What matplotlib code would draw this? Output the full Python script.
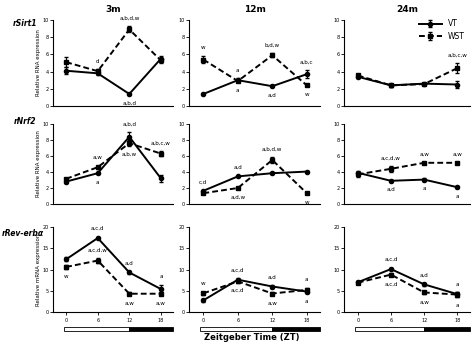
import matplotlib
matplotlib.use('Agg')
from matplotlib import pyplot as plt
from matplotlib.patches import Rectangle
import matplotlib.transforms as mtransforms

zt = [0, 6, 12, 18]
ages = ['3m', '12m', '24m']
genes = ['rSirt1', 'rNrf2', 'rRev-erbα']

# mean expression per gene, one row per age group
vt = {
    'rSirt1': [[4.1, 3.8, 1.4, 5.5], [1.4, 3.0, 2.3, 3.7], [3.4, 2.4, 2.6, 2.5]],
    'rNrf2': [[2.8, 3.85, 8.4, 3.2], [1.65, 3.45, 3.85, 4.05], [3.9, 2.9, 3.05, 2.1]],
    'rRev-erbα': [[12.4, 17.4, 9.3, 5.4], [2.75, 7.6, 6.0, 4.8], [7.0, 10.1, 6.5, 4.2]],
}
wst = {
    'rSirt1': [[5.1, 4.05, 8.9, 5.3], [5.4, 2.9, 5.9, 2.4], [3.55, 2.4, 2.55, 4.4]],
    'rNrf2': [[3.15, 4.6, 7.6, 6.3], [1.35, 2.0, 5.5, 1.35], [3.7, 4.4, 5.15, 5.15]],
    'rRev-erbα': [[10.6, 12.1, 4.3, 4.3], [4.4, 7.2, 4.35, 5.2], [6.9, 8.8, 4.6, 4.1]],
}
vt_err = {
    'rSirt1': [[0.4, 0.15, 0.1, 0.35], [0.1, 0.2, 0.1, 0.45], [0.2, 0.15, 0.1, 0.35]],
    'rNrf2': [[0.15, 0.1, 0.55, 0.45], [0.1, 0.1, 0.1, 0.1], [0.2, 0.1, 0.15, 0.1]],
    'rRev-erbα': [[0.5, 0.3, 0.3, 1.0], [0.3, 0.4, 0.3, 0.4], [0.4, 0.3, 0.3, 0.4]],
}
wst_err = {
    'rSirt1': [[0.6, 0.2, 0.35, 0.25], [0.45, 0.15, 0.25, 0.1], [0.2, 0.15, 0.1, 0.6]],
    'rNrf2': [[0.15, 0.2, 0.35, 0.3], [0.15, 0.1, 0.35, 0.1], [0.3, 0.35, 0.1, 0.1]],
    'rRev-erbα': [[0.4, 0.5, 0.3, 0.3], [0.3, 0.3, 0.3, 0.5], [0.3, 0.3, 0.3, 0.6]],
}

# significance letters: (ZT, text, series the label sits on, above/below)
notes = {
    ('rSirt1', 0): [(6, 'd', 'wst', 1), (12, 'a,b,d,w', 'wst', 1), (12, 'a,b,d', 'vt', -1)],
    ('rSirt1', 1): [(0, 'w', 'wst', 1), (6, 'a', 'vt', 1), (6, 'a', 'wst', -1),
                    (12, 'b,d,w', 'wst', 1), (12, 'a,d', 'vt', -1),
                    (18, 'a,b,c', 'vt', 1), (18, 'w', 'wst', -1)],
    ('rSirt1', 2): [(18, 'a,b,c,w', 'wst', 1)],
    ('rNrf2', 0): [(6, 'a,w', 'wst', 1), (6, 'a', 'vt', -1), (12, 'a,b,d', 'vt', 1),
                   (12, 'a,b,w', 'wst', -1), (18, 'a,b,c,w', 'wst', 1)],
    ('rNrf2', 1): [(0, 'c,d', 'vt', 1), (6, 'a,d', 'vt', 1), (6, 'a,d,w', 'wst', -1),
                   (12, 'a,b,d,w', 'wst', 1), (18, 'w', 'wst', -1)],
    ('rNrf2', 2): [(6, 'a,c,d,w', 'wst', 1), (6, 'a,d', 'vt', -1), (12, 'a,w', 'wst', 1),
                   (12, 'a', 'vt', -1), (18, 'a,w', 'wst', 1), (18, 'a', 'vt', -1)],
    ('rRev-erbα', 0): [(0, 'w', 'wst', -1), (6, 'a,c,d', 'vt', 1), (6, 'a,c,d,w', 'wst', 1),
                       (12, 'a,d', 'vt', 1), (12, 'a,w', 'wst', -1),
                       (18, 'a', 'vt', 1), (18, 'a,w', 'wst', -1)],
    ('rRev-erbα', 1): [(0, 'w', 'wst', 1), (6, 'a,c,d', 'vt', 1), (6, 'a,c,d', 'wst', -1),
                       (12, 'a,d', 'vt', 1), (12, 'a,w', 'wst', -1),
                       (18, 'a', 'wst', 1), (18, 'a', 'vt', -1)],
    ('rRev-erbα', 2): [(6, 'a,c,d', 'vt', 1), (6, 'a,c,d', 'wst', -1),
                       (12, 'a,d', 'vt', 1), (12, 'a,w', 'wst', -1),
                       (18, 'a', 'vt', 1), (18, 'a', 'wst', -1)],
}

W, H = 474, 344
fig = plt.figure(figsize=(W / 100, H / 100), dpi=100)
fig.patch.set_facecolor('white')

cols = [(53, 173), (189, 320), (344, 470)]
rows = [(20, 106), (124, 204), (227, 312)]
ylims = [10, 10, 20]
yticks = [[0, 2, 4, 6, 8, 10], [0, 2, 4, 6, 8, 10], [0, 5, 10, 15, 20]]
ylabels = ['Relative RNA expression', 'Relative RNA expression', 'Relative mRNA expression']


def rect(x0, x1, y0, y1):
    return [x0 / W, 1 - y1 / H, (x1 - x0) / W, (y1 - y0) / H]


for r, gene in enumerate(genes):
    for c, age in enumerate(ages):
        ax = fig.add_axes(rect(cols[c][0], cols[c][1], rows[r][0], rows[r][1]))
        v = vt[gene][c]
        w = wst[gene][c]
        ax.errorbar(zt, v, yerr=vt_err[gene][c], color='black', lw=1.4, marker='o',
                     ms=3, capsize=1.5, elinewidth=0.8, label='VT')
        ax.errorbar(zt, w, yerr=wst_err[gene][c], color='black', lw=1.4, ls=(0, (3, 1.6)),
                     marker='s', ms=3.2, capsize=1.5, elinewidth=0.8, label='WST')
        ax.set_xlim(-2.5, 20.3)
        ax.set_ylim(0, ylims[r])
        ax.set_yticks(yticks[r])
        ax.spines['top'].set_visible(False)
        ax.spines['right'].set_visible(False)
        for s in ('left', 'bottom'):
            ax.spines[s].set_linewidth(0.8)
        ax.tick_params(axis='y', labelsize=3.5, length=2, width=0.6, pad=1)
        if r == 2:
            ax.set_xticks(zt)
            ax.tick_params(axis='x', labelsize=3.5, length=2, width=0.6, pad=2)
            # light / dark phase bar
            trans = mtransforms.blended_transform_factory(ax.transData, ax.transAxes)
            ax.add_patch(Rectangle((-0.5, -0.225), 12.5, 0.05, transform=trans,
                                   facecolor='white', edgecolor='black', lw=0.6, clip_on=False))
            ax.add_patch(Rectangle((12, -0.225), 8.3, 0.05, transform=trans,
                                   facecolor='black', edgecolor='black', lw=0.6, clip_on=False))
        else:
            ax.set_xticks([])
        if c == 0:
            ax.set_ylabel(ylabels[r], fontsize=4, labelpad=1)
        if r == 0:
            ax.set_title(age, fontsize=6.5, fontweight='bold', pad=6)
        for x, txt, series, side in notes[(gene, c)]:
            vals = v if series == 'vt' else w
            errs = vt_err[gene][c] if series == 'vt' else wst_err[gene][c]
            i = zt.index(x)
            ax.annotate(txt, (x, vals[i] + side * errs[i]), xytext=(0, 4 * side),
                        textcoords='offset points', ha='center',
                        va='bottom' if side > 0 else 'top', fontsize=4.1)
        if r == 0 and c == 2:
            ax.legend(loc='upper right', bbox_to_anchor=(1.0, 1.07), frameon=False,
                      fontsize=5.5, handlelength=3, labelspacing=0.45, borderpad=0.2)

fig.text(13 / W, 1 - 23 / H, 'rSirt1', fontsize=5.5, fontweight='bold', style='italic',
         ha='left', va='center')
fig.text(14 / W, 1 - 122 / H, 'rNrf2', fontsize=5.5, fontweight='bold', style='italic',
         ha='left', va='center')
fig.text(2 / W, 1 - 234 / H, 'rRev-erbα', fontsize=5.5, fontweight='bold', style='italic',
         ha='left', va='center')
fig.text(252 / W, 1 - 338 / H, 'Zeitgeber Time (ZT)', fontsize=6, fontweight='bold',
         ha='center', va='center')

plt.savefig('out.png', dpi=100)
plt.close()
